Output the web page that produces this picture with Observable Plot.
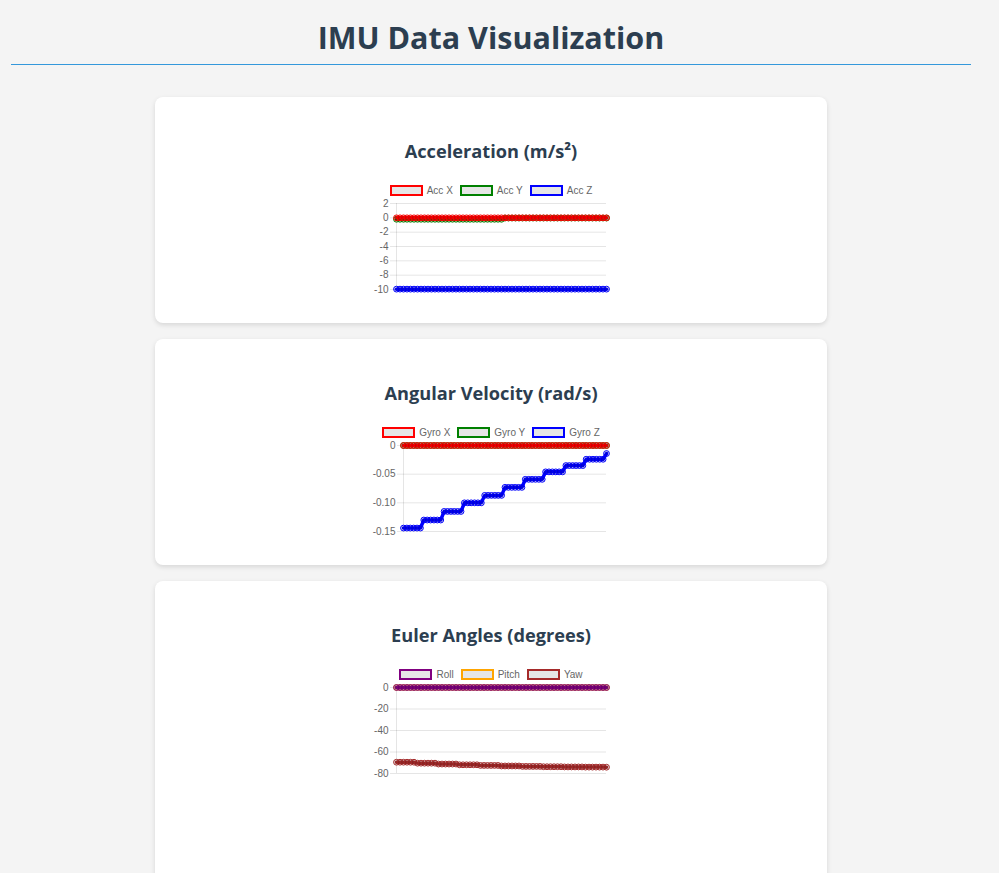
<!DOCTYPE html>
<html>
<head>
<meta charset="utf-8">
<script src="https://cdn.jsdelivr.net/npm/d3@7"></script>
<script src="https://cdn.jsdelivr.net/npm/@observablehq/plot@0.6"></script>
<style>
html,body{margin:0;padding:0;overflow:hidden;background:#f4f4f4;}
body{font-family:"Open Sans","Noto Sans",sans-serif;width:999px;height:873px;position:relative;}
.container{position:relative;width:960px;margin-left:11px;}
#cards{position:absolute;top:0;left:11px;margin:0;}
h1{margin:0;height:64px;border-bottom:1px solid #3498db;text-align:center;font-size:30.5px;line-height:74px;color:#2c3e50;font-weight:700;}
.card{position:absolute;left:144px;width:672px;height:226px;background:#fff;border-radius:8px;box-shadow:0 2px 5px rgba(0,0,0,0.12);}
.card h2{position:absolute;left:0;right:0;top:42px;margin:0;text-align:center;font-size:18.2px;line-height:24px;color:#2c3e50;font-weight:700;}
.legend{position:absolute;left:0;right:0;top:88px;height:11px;display:flex;justify-content:center;align-items:center;font-family:"Liberation Sans",Arial,sans-serif;font-size:10px;color:#666;}
.legend .item{display:flex;align-items:center;margin:0 3.5px;}
.legend .box{box-sizing:border-box;width:33px;height:11px;border:2px solid;background:#e6e6e6;margin-right:4px;}
.plot{position:absolute;left:0;top:100px;}
</style>
</head>
<body>
<div class="container">
  <h1>IMU Data Visualization</h1>
</div>
<div class="container" id="cards"></div>
<script>
// sample index (x axis, no labels shown)
const samples = [0,1,2,3,4,5,6,7,8,9,10,11,12,13,14,15,16,17,18,19,20,21,22,23,24,25,26,27,28,29,30,31,32,33,34,35,36,37,38,39,40,41,42,43,44,45,46,47,48,49,50,51,52,53,54,55,56,57,58,59,60];

// Acceleration (m/s²)
const accX = [0,0,0,0,0,0,0,0,0,0, 0,0,0,0,0,0,0,0,0,0, 0,0,0,0,0,0,0,0,0,0, 0,0,0,0,0,0,0,0,0,0, 0,0,0,0,0,0,0,0,0,0, 0,0,0,0,0,0,0,0,0,0, 0];
const accY = [-0.2,-0.2,-0.2,-0.2,-0.2,-0.2,-0.2,-0.2,-0.2,-0.2, -0.2,-0.2,-0.2,-0.2,-0.2,-0.2,-0.2,-0.2,-0.2,-0.2, -0.2,-0.2,-0.2,-0.2,-0.2,-0.2,-0.2,-0.2,-0.2,-0.2, -0.2,-0.03,-0.03,-0.03,-0.03,-0.03,-0.03,-0.03,-0.03,-0.03, -0.03,-0.03,-0.03,-0.03,-0.03,-0.03,-0.03,-0.03,-0.03,-0.03, -0.03,-0.03,-0.03,-0.03,-0.03,-0.03,-0.03,-0.03,-0.03,-0.03, -0.03];
const accZ = [-9.95,-9.95,-9.95,-9.95,-9.95,-9.95,-9.95,-9.95,-9.95,-9.95, -9.95,-9.95,-9.95,-9.95,-9.95,-9.95,-9.95,-9.95,-9.95,-9.95, -9.95,-9.95,-9.95,-9.95,-9.95,-9.95,-9.95,-9.95,-9.95,-9.95, -9.95,-9.95,-9.95,-9.95,-9.95,-9.95,-9.95,-9.95,-9.95,-9.95, -9.95,-9.95,-9.95,-9.95,-9.95,-9.95,-9.95,-9.95,-9.95,-9.95, -9.95,-9.95,-9.95,-9.95,-9.95,-9.95,-9.95,-9.95,-9.95,-9.95, -9.95];
const accTicks = [2,0,-2,-4,-6,-8,-10];

// Angular Velocity (rad/s)
const gyroX = [0,0,0,0,0,0,0,0,0,0, 0,0,0,0,0,0,0,0,0,0, 0,0,0,0,0,0,0,0,0,0, 0,0,0,0,0,0,0,0,0,0, 0,0,0,0,0,0,0,0,0,0, 0,0,0,0,0,0,0,0,0,0, 0];
const gyroY = [0,0,0,0,0,0,0,0,0,0, 0,0,0,0,0,0,0,0,0,0, 0,0,0,0,0,0,0,0,0,0, 0,0,0,0,0,0,0,0,0,0, 0,0,0,0,0,0,0,0,0,0, 0,0,0,0,0,0,0,0,0,0, 0];
const gyroZ = [-0.144,-0.144,-0.144,-0.144,-0.144,-0.144, -0.130,-0.130,-0.130,-0.130,-0.130,-0.130, -0.115,-0.115,-0.115,-0.115,-0.115,-0.115, -0.100,-0.100,-0.100,-0.100,-0.100,-0.100, -0.087,-0.087,-0.087,-0.087,-0.087,-0.087, -0.073,-0.073,-0.073,-0.073,-0.073,-0.073, -0.059,-0.059,-0.059,-0.059,-0.059,-0.059, -0.046,-0.046,-0.046,-0.046,-0.046,-0.046, -0.035,-0.035,-0.035,-0.035,-0.035,-0.035, -0.024,-0.024,-0.024,-0.024,-0.024,-0.024, -0.014];
const gyroTicks = [0,-0.05,-0.10,-0.15];

// Euler Angles (degrees)
const roll = [0,0,0,0,0,0,0,0,0,0, 0,0,0,0,0,0,0,0,0,0, 0,0,0,0,0,0,0,0,0,0, 0,0,0,0,0,0,0,0,0,0, 0,0,0,0,0,0,0,0,0,0, 0,0,0,0,0,0,0,0,0,0, 0];
const pitch = [0,0,0,0,0,0,0,0,0,0, 0,0,0,0,0,0,0,0,0,0, 0,0,0,0,0,0,0,0,0,0, 0,0,0,0,0,0,0,0,0,0, 0,0,0,0,0,0,0,0,0,0, 0,0,0,0,0,0,0,0,0,0, 0];
const yaw = [-69.5,-69.5,-69.5,-69.5,-69.5,-69.5, -70.4,-70.4,-70.4,-70.4,-70.4,-70.4, -71.2,-71.2,-71.2,-71.2,-71.2,-71.2, -71.9,-71.9,-71.9,-71.9,-71.9,-71.9, -72.5,-72.5,-72.5,-72.5,-72.5,-72.5, -73.0,-73.0,-73.0,-73.0,-73.0,-73.0, -73.4,-73.4,-73.4,-73.4,-73.4,-73.4, -73.7,-73.7,-73.7,-73.7,-73.7,-73.7, -73.9,-73.9,-73.9,-73.9,-73.9,-73.9, -74.05,-74.05,-74.05,-74.05,-74.05,-74.05, -74.15];
const eulerTicks = [0,-20,-40,-60,-80];

const charts = [
  {title:"Acceleration (m/s²)", top:97, height:226, names:["Acc X","Acc Y","Acc Z"], colors:["red","green","blue"], series:[accX,accY,accZ], ticks:accTicks, domain:[-10,2], fmt:d=>String(d), ml:241, mr:221, mt:6},
  {title:"Angular Velocity (rad/s)", top:339, height:226, names:["Gyro X","Gyro Y","Gyro Z"], colors:["red","green","blue"], series:[gyroX,gyroY,gyroZ], ticks:gyroTicks, domain:[-0.15,0], fmt:d=>d===0?"0":d.toFixed(2), ml:248, mr:221, mt:7},
  {title:"Euler Angles (degrees)", top:581, height:400, names:["Roll","Pitch","Yaw"], colors:["purple","orange","brown"], series:[roll,pitch,yaw], ticks:eulerTicks, domain:[-80,0], fmt:d=>String(d), ml:241, mr:221, mt:7}
];

const cards = document.getElementById("cards");
for (const c of charts) {
  const card = document.createElement("div");
  card.className = "card";
  card.style.top = c.top + "px";
  card.style.height = c.height + "px";
  const h2 = document.createElement("h2");
  h2.textContent = c.title;
  card.appendChild(h2);
  const leg = document.createElement("div");
  leg.className = "legend";
  c.names.forEach((n, i) => {
    const it = document.createElement("div");
    it.className = "item";
    const b = document.createElement("span");
    b.className = "box";
    b.style.borderColor = c.colors[i];
    const t = document.createElement("span");
    t.textContent = n;
    it.appendChild(b); it.appendChild(t);
    leg.appendChild(it);
  });
  card.appendChild(leg);

  const marks = [
    Plot.gridY(c.ticks, {stroke:"#000", strokeOpacity:0.1}),
    Plot.axisY(c.ticks, {tickSize:6, tickPadding:2, tickFormat:c.fmt, stroke:"#e6e6e6", fill:"#666", fontSize:10, label:null}),
    Plot.ruleX([samples[0]], {stroke:"#000", strokeOpacity:0.1})
  ];
  for (let i = c.series.length - 1; i >= 0; i--) {
    const data = samples.map((s, k) => ({x:s, y:c.series[i][k]}));
    marks.push(Plot.line(data, {x:"x", y:"y", stroke:c.colors[i], strokeWidth:3.5}));
    marks.push(Plot.dot(data, {x:"x", y:"y", r:2.9, stroke:c.colors[i], strokeWidth:1, fill:"rgba(0,0,0,0.1)"}));
  }
  const plotH = 86;
  const svg = Plot.plot({
    width:672, height:c.mt + plotH + 10,
    marginLeft:c.ml, marginRight:c.mr, marginTop:c.mt, marginBottom:10,
    style:{fontFamily:"'Liberation Sans', Arial, sans-serif", fontSize:"10px", background:"transparent", color:"#666", overflow:"visible"},
    x:{domain:[samples[0], samples[samples.length-1]], axis:null},
    y:{domain:c.domain, axis:null},
    marks
  });
  const wrap = document.createElement("div");
  wrap.className = "plot";
  wrap.style.top = (106 - c.mt) + "px";
  wrap.appendChild(svg);
  card.appendChild(wrap);
  cards.appendChild(card);
}
</script>
</body>
</html>
